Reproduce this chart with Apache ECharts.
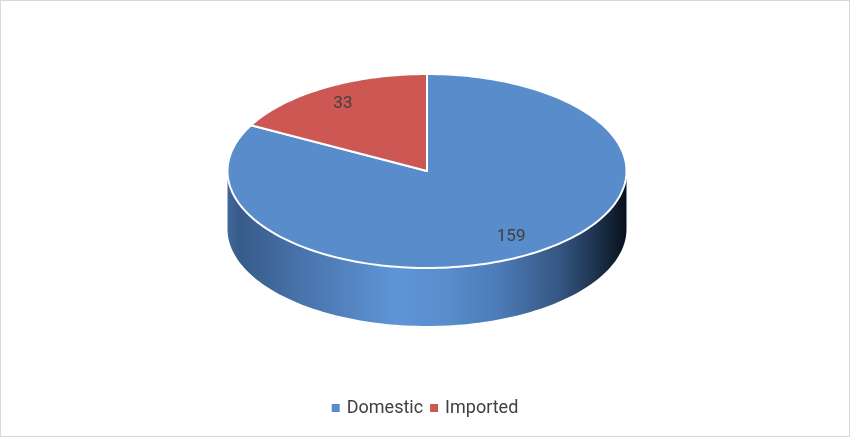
<!DOCTYPE html>
<html>
<head>
<meta charset="utf-8">
<script src="https://cdn.jsdelivr.net/npm/echarts@6/dist/echarts.min.js"></script>
<style>
  html, body { margin: 0; padding: 0; background: #fff; }
  #chart { width: 850px; height: 437px; box-sizing: border-box; border: 1px solid #d9d9d9; }
</style>
</head>
<body>
<div id="chart"></div>
<script>
// ---- data ----
const categories = ['Domestic', 'Imported'];
const values = [159, 33];
const sliceColors = ['#598CCB', '#CD5853'];

const chart = echarts.init(document.getElementById('chart'), null, { renderer: 'canvas' });

const total = values.reduce((a, b) => a + b, 0);
const starts = [];
(function () { let acc = 0; values.forEach(v => { starts.push(acc); acc += v; }); })();

// geometry of the tilted disc
const geo = { cx: 426, cy: 170, rx: 199.5, ry: 97, depth: 58 };

function pt(deg, dy) {
  const r = deg * Math.PI / 180;
  return [geo.cx + geo.rx * Math.sin(r), geo.cy - geo.ry * Math.cos(r) + (dy || 0)];
}
function arcPts(a0, a1, dy) {
  const pts = [];
  const n = Math.max(2, Math.ceil(Math.abs(a1 - a0) / 1.5));
  for (let i = 0; i <= n; i++) pts.push(pt(a0 + (a1 - a0) * i / n, dy));
  return pts;
}

const sideGradient = {
  type: 'linear', global: true,
  x: geo.cx - geo.rx, y: 0, x2: geo.cx + geo.rx, y2: 0,
  colorStops: [
    { offset: 0.00, color: '#41679a' },
    { offset: 0.03, color: '#375b8a' },
    { offset: 0.18, color: '#4872aa' },
    { offset: 0.42, color: '#5e95d7' },
    { offset: 0.53, color: '#5a8fcf' },
    { offset: 0.68, color: '#4c7bb7' },
    { offset: 0.83, color: '#355783' },
    { offset: 0.93, color: '#1c3049' },
    { offset: 1.00, color: '#08111c' }
  ]
};

function makeRender(idx) {
  return function (params, api) {
    const v = api.value(0);
    const a0 = starts[idx] / total * 360;
    const a1 = a0 + v / total * 360;
    const children = [];
    // visible front side (90..270 deg clockwise from top)
    const b0 = Math.max(a0, 90), b1 = Math.min(a1, 270);
    if (b1 > b0) {
      const top = arcPts(b0, b1, 0);
      const bot = arcPts(b1, b0, geo.depth);
      children.push({
        type: 'polygon', z2: 1,
        shape: { points: top.concat(bot) },
        style: { fill: sideGradient }
      });
    }
    // top face
    const pts = [[geo.cx, geo.cy]].concat(arcPts(a0, a1, 0));
    children.push({
      type: 'polygon', z2: 10,
      shape: { points: pts },
      style: { fill: sliceColors[idx], stroke: '#ffffff', lineWidth: 2, lineJoin: 'round' }
    });
    // data label
    const mid = (a0 + a1) / 2 * Math.PI / 180;
    children.push({
      type: 'text', z2: 20,
      style: {
        text: String(v),
        x: geo.cx + geo.rx * 0.82 * Math.sin(mid),
        y: geo.cy - geo.ry * 0.8 * Math.cos(mid) - 1,
        fill: '#404040', font: '17px Roboto, "Open Sans", sans-serif',
        align: 'center', verticalAlign: 'middle'
      }
    });
    return { type: 'group', children };
  };
}

const series = categories.map((name, i) => ({
  type: 'custom',
  name: name,
  coordinateSystem: 'none',
  itemStyle: { color: sliceColors[i] },
  renderItem: makeRender(i),
  data: [[values[i]]],
  silent: true
}));

chart.setOption({
  animation: false,
  backgroundColor: '#ffffff',
  legend: {
    data: categories,
    top: 393,
    left: 'center',
    icon: 'rect',
    itemWidth: 8,
    itemHeight: 8,
    itemGap: 7,
    textStyle: { color: '#404040', fontSize: 18, fontFamily: 'Roboto, "Open Sans", sans-serif', padding: [0, 0, 0, 2] }
  },
  series: series
});
</script>
</body>
</html>
